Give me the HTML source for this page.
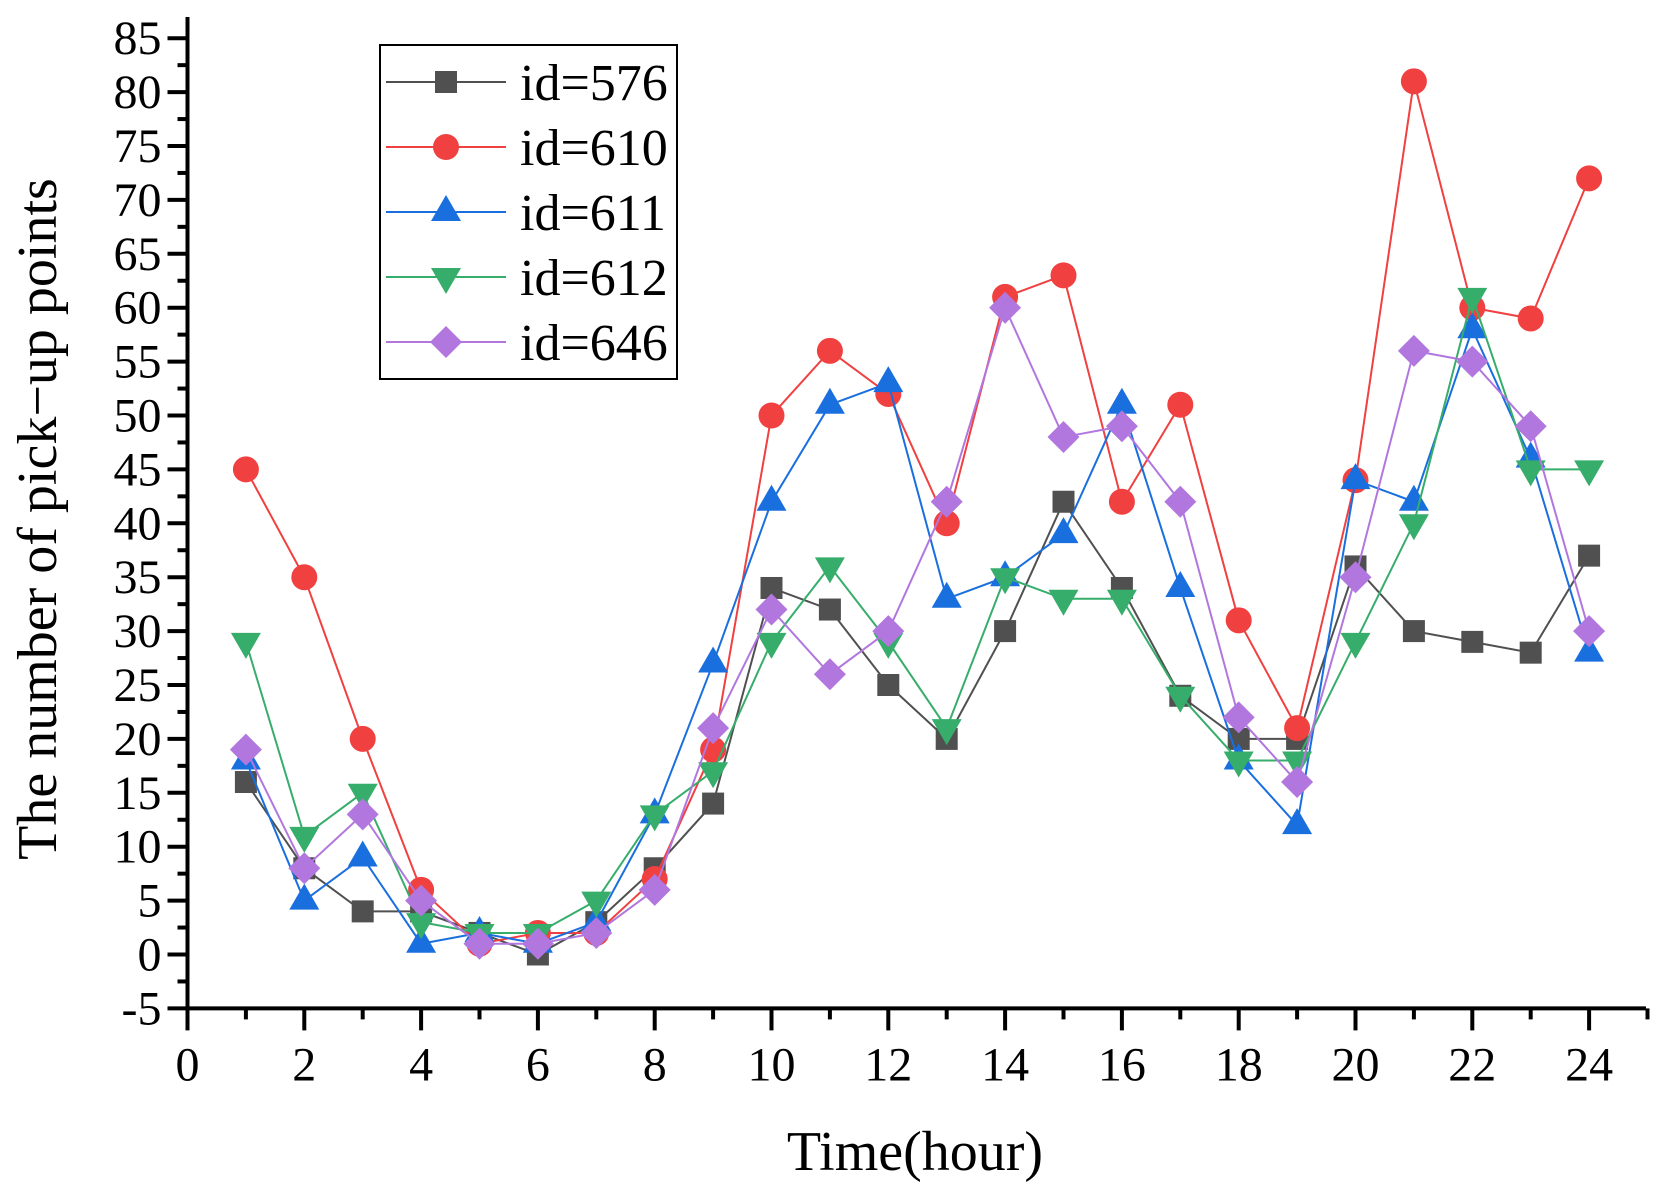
<!DOCTYPE html>
<html><head><meta charset="utf-8"><style>
html,body{margin:0;padding:0;background:#fff;}
svg{display:block;font-family:"Liberation Serif",serif;}
</style></head><body>
<svg id="chart" width="1678" height="1194" viewBox="0 0 1678 1194">
<g id="axes"></g>
<g id="series"></g>
<g id="legend"></g>
<text x="915" y="1170" font-size="56" text-anchor="middle">Time(hour)</text>
<text transform="translate(56,519) rotate(-90)" font-size="56" text-anchor="middle">The number of pick−up points</text>
</svg>
<script>
const hours = [1,2,3,4,5,6,7,8,9,10,11,12,13,14,15,16,17,18,19,20,21,22,23,24];
const seriesNames = ["id=576","id=610","id=611","id=612","id=646"];
const s576 = [16,8,4,4,2,0,3,8,14,34,32,25,20,30,42,34,24,20,20,36,30,29,28,37];
const s610 = [45,35,20,6,1,2,2,7,19,50,56,52,40,61,63,42,51,31,21,44,81,60,59,72];
const s611 = [18,5,9,1,2,1,3,13,27,42,51,53,33,35,39,51,34,18,12,44,42,58,46,28];
const s612 = [29,11,15,3,2,2,5,13,17,29,36,29,21,35,33,33,24,18,18,29,40,61,45,45];
const s646 = [19,8,13,5,1,1,2,6,21,32,26,30,42,60,48,49,42,22,16,35,56,55,49,30];
const xTicks = [0,2,4,6,8,10,12,14,16,18,20,22,24];
const yTicks = [-5,0,5,10,15,20,25,30,35,40,45,50,55,60,65,70,75,80,85];

const NS="http://www.w3.org/2000/svg";
const X0=187.5, XU=58.4, Y0=954.5, YU=10.78;
const xs=v=>X0+v*XU, ys=v=>Y0-v*YU;
function mk(tag,attrs,parent){const e=document.createElementNS(NS,tag);for(const k in attrs)e.setAttribute(k,attrs[k]);parent.appendChild(e);return e;}
const axes=document.getElementById('axes');
const axBottom=ys(-5), axTop=17, axRight=1646;
let e;
e=mk('line',{x1:X0,y1:axTop,x2:X0,y2:axBottom+2,stroke:'#000','stroke-width':4},axes);


e=mk('line',{x1:X0-2,y1:axBottom,x2:axRight,y2:axBottom,stroke:'#000','stroke-width':4},axes);


yTicks.forEach(v=>{
  const y=ys(v);
  e=mk('line',{x1:X0-20,y1:y,x2:X0,y2:y,stroke:'#000','stroke-width':4},axes);
  
  
  if(v<85){e=mk('line',{x1:X0-10,y1:ys(v+2.5),x2:X0,y2:ys(v+2.5),stroke:'#000','stroke-width':4},axes);
  
  }
  const t=mk('text',{x:X0-26,y:y+16,'font-size':48,'text-anchor':'end'},axes);
  t.textContent=v;
  
  
});
xTicks.forEach(v=>{
  const x=xs(v);
  e=mk('line',{x1:x,y1:axBottom,x2:x,y2:axBottom+22,stroke:'#000','stroke-width':4},axes);
  
  
  e=mk('line',{x1:xs(v+1),y1:axBottom,x2:xs(v+1),y2:axBottom+11,stroke:'#000','stroke-width':4},axes);
  
  
  const t=mk('text',{x:x,y:axBottom+72,'font-size':48,'text-anchor':'middle'},axes);
  t.textContent=v;
  
  
});
const colors=['#505050','#f04040','#1a6fdf','#37ad6b','#b177de'];
const shapes=['square','circle','up','down','diamond'];
const data=[s576,s610,s611,s612,s646];
function marker(shape,x,y,c,parent){
  let m;
  if(shape==='square')m=mk('rect',{x:x-11,y:y-11,width:22,height:22,fill:c},parent);
  else if(shape==='circle')m=mk('circle',{cx:x,cy:y,r:13,fill:c},parent);
  else if(shape==='up')m=mk('polygon',{points:`${x},${y-17} ${x+15},${y+9} ${x-15},${y+9}`,fill:c},parent);
  else if(shape==='down')m=mk('polygon',{points:`${x},${y+17} ${x+15},${y-9} ${x-15},${y-9}`,fill:c},parent);
  else m=mk('polygon',{points:`${x},${y-16} ${x+16},${y} ${x},${y+16} ${x-16},${y}`,fill:c},parent);
  return m;
}
const sg=document.getElementById('series');
data.forEach((arr,i)=>{
  const g=mk('g',{},sg);
  
  
  const pl=mk('polyline',{points:arr.map((v,j)=>xs(hours[j])+','+ys(v)).join(' '),fill:'none',stroke:colors[i],'stroke-width':2},g);
  
  
  arr.forEach((v,j)=>{
    const m=marker(shapes[i],xs(hours[j]),ys(v),colors[i],g);
    
    
  });
});
const lg=document.getElementById('legend');
e=mk('rect',{x:380,y:45,width:297,height:334,fill:'#fff',stroke:'#000','stroke-width':2},lg);


seriesNames.forEach((n,i)=>{
  const y=82+i*65;
  const g=mk('g',{},lg);
  
  
  mk('line',{x1:386,y1:y,x2:506,y2:y,stroke:colors[i],'stroke-width':2},g);
  marker(shapes[i],446,y,colors[i],g);
  const t=mk('text',{x:520,y:y+18,'font-size':52},g);
  t.textContent=n;
  
  
});
</script>
</body></html>
